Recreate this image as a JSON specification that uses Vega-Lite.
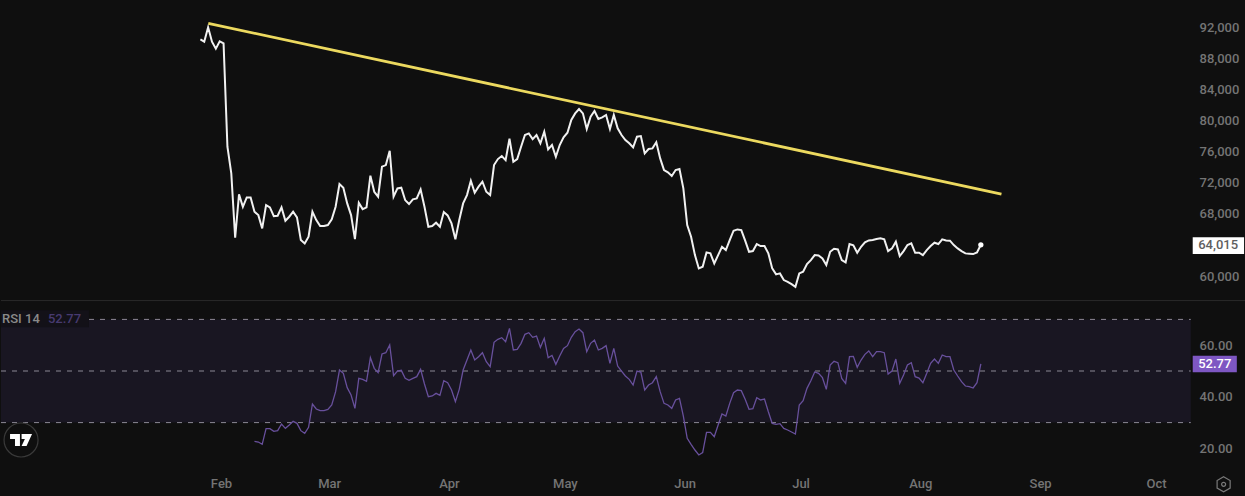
{"$schema":"https://vega.github.io/schema/vega-lite/v6.json","background":"#0f0f0f","padding":0,"spacing":0,"config":{"view":{"stroke":null},"font":"Roboto","concat":{"spacing":0}},
"datasets":{
"price":[{"date":"2025-01-26T16:00Z","value":90410},{"date":"2025-01-27T16:00Z","value":90110},{"date":"2025-01-28T16:00Z","value":91960},{"date":"2025-01-29T16:00Z","value":90110},{"date":"2025-01-30T16:00Z","value":89210},{"date":"2025-01-31T16:00Z","value":90160},{"date":"2025-02-01T16:00Z","value":89900},{"date":"2025-02-02T16:00Z","value":76620},{"date":"2025-02-03T16:00Z","value":73190},{"date":"2025-02-04T16:00Z","value":64920},{"date":"2025-02-05T16:00Z","value":70490},{"date":"2025-02-06T16:00Z","value":68900},{"date":"2025-02-07T16:00Z","value":70100},{"date":"2025-02-08T16:00Z","value":70100},{"date":"2025-02-09T16:00Z","value":68260},{"date":"2025-02-10T16:00Z","value":67830},{"date":"2025-02-11T16:00Z","value":66120},{"date":"2025-02-12T16:00Z","value":69120},{"date":"2025-02-13T16:00Z","value":68820},{"date":"2025-02-14T16:00Z","value":67700},{"date":"2025-02-15T16:00Z","value":67750},{"date":"2025-02-16T16:00Z","value":68820},{"date":"2025-02-17T16:00Z","value":67100},{"date":"2025-02-18T16:00Z","value":67620},{"date":"2025-02-19T16:00Z","value":68260},{"date":"2025-02-20T16:00Z","value":67530},{"date":"2025-02-21T16:00Z","value":64620},{"date":"2025-02-22T16:00Z","value":64190},{"date":"2025-02-23T16:00Z","value":65050},{"date":"2025-02-24T16:00Z","value":68260},{"date":"2025-02-25T16:00Z","value":67190},{"date":"2025-02-26T16:00Z","value":66420},{"date":"2025-02-27T16:00Z","value":66420},{"date":"2025-02-28T16:00Z","value":66550},
{"date":"2025-03-01T16:00Z","value":67280},{"date":"2025-03-02T16:00Z","value":68900},{"date":"2025-03-03T16:00Z","value":71820},{"date":"2025-03-04T16:00Z","value":71350},{"date":"2025-03-05T16:00Z","value":69330},{"date":"2025-03-06T16:00Z","value":67830},{"date":"2025-03-07T16:00Z","value":64750},{"date":"2025-03-08T16:00Z","value":69420},{"date":"2025-03-09T16:00Z","value":68600},{"date":"2025-03-10T16:00Z","value":68820},{"date":"2025-03-11T16:00Z","value":72890},{"date":"2025-03-12T16:00Z","value":70830},{"date":"2025-03-13T16:00Z","value":70190},{"date":"2025-03-14T16:00Z","value":74050},{"date":"2025-03-15T16:00Z","value":74260},{"date":"2025-03-16T16:00Z","value":76100},{"date":"2025-03-17T16:00Z","value":70190},{"date":"2025-03-18T16:00Z","value":71260},{"date":"2025-03-19T16:00Z","value":71350},{"date":"2025-03-20T16:00Z","value":69760},{"date":"2025-03-21T16:00Z","value":69250},{"date":"2025-03-22T16:00Z","value":69850},{"date":"2025-03-23T16:00Z","value":69980},{"date":"2025-03-24T16:00Z","value":71130},{"date":"2025-03-25T16:00Z","value":68900},{"date":"2025-03-26T16:00Z","value":66330},{"date":"2025-03-27T16:00Z","value":66420},{"date":"2025-03-28T16:00Z","value":66850},{"date":"2025-03-29T16:00Z","value":66330},{"date":"2025-03-30T16:00Z","value":68220},{"date":"2025-03-31T16:00Z","value":67790},
{"date":"2025-04-01T16:00Z","value":66760},{"date":"2025-04-02T16:00Z","value":64710},{"date":"2025-04-03T16:00Z","value":67190},{"date":"2025-04-04T16:00Z","value":69330},{"date":"2025-04-05T16:00Z","value":70400},{"date":"2025-04-06T16:00Z","value":72250},{"date":"2025-04-07T16:00Z","value":70700},{"date":"2025-04-08T16:00Z","value":71480},{"date":"2025-04-09T16:00Z","value":72120},{"date":"2025-04-10T16:00Z","value":70830},{"date":"2025-04-11T16:00Z","value":70400},{"date":"2025-04-12T16:00Z","value":74260},{"date":"2025-04-13T16:00Z","value":75030},{"date":"2025-04-14T16:00Z","value":75420},{"date":"2025-04-15T16:00Z","value":74900},{"date":"2025-04-16T16:00Z","value":77650},{"date":"2025-04-17T16:00Z","value":74690},{"date":"2025-04-18T16:00Z","value":75030},{"date":"2025-04-19T16:00Z","value":76620},{"date":"2025-04-20T16:00Z","value":78120},{"date":"2025-04-21T16:00Z","value":78330},{"date":"2025-04-22T16:00Z","value":77600},{"date":"2025-04-23T16:00Z","value":78120},{"date":"2025-04-24T16:00Z","value":77050},{"date":"2025-04-25T16:00Z","value":78550},{"date":"2025-04-26T16:00Z","value":76280},{"date":"2025-04-27T16:00Z","value":76830},{"date":"2025-04-28T16:00Z","value":75330},{"date":"2025-04-29T16:00Z","value":76830},{"date":"2025-04-30T16:00Z","value":77820},
{"date":"2025-05-01T16:00Z","value":78420},{"date":"2025-05-02T16:00Z","value":80050},{"date":"2025-05-03T16:00Z","value":80900},{"date":"2025-05-04T16:00Z","value":81460},{"date":"2025-05-05T16:00Z","value":80900},{"date":"2025-05-06T16:00Z","value":78890},{"date":"2025-05-07T16:00Z","value":80480},{"date":"2025-05-08T16:00Z","value":81200},{"date":"2025-05-09T16:00Z","value":80180},{"date":"2025-05-10T16:00Z","value":80390},{"date":"2025-05-11T16:00Z","value":80690},{"date":"2025-05-12T16:00Z","value":78890},{"date":"2025-05-13T16:00Z","value":80690},{"date":"2025-05-14T16:00Z","value":78980},{"date":"2025-05-15T16:00Z","value":78120},{"date":"2025-05-16T16:00Z","value":77480},{"date":"2025-05-17T16:00Z","value":77050},{"date":"2025-05-18T16:00Z","value":76530},{"date":"2025-05-19T16:00Z","value":77900},{"date":"2025-05-20T16:00Z","value":77990},{"date":"2025-05-21T16:00Z","value":75760},{"date":"2025-05-22T16:00Z","value":76320},{"date":"2025-05-23T16:00Z","value":76400},{"date":"2025-05-24T16:00Z","value":77180},{"date":"2025-05-25T16:00Z","value":75120},{"date":"2025-05-26T16:00Z","value":73620},{"date":"2025-05-27T16:00Z","value":73320},{"date":"2025-05-28T16:00Z","value":72850},{"date":"2025-05-29T16:00Z","value":73620},{"date":"2025-05-30T16:00Z","value":73750},{"date":"2025-05-31T16:00Z","value":71260},
{"date":"2025-06-01T16:00Z","value":66550},{"date":"2025-06-02T16:00Z","value":65050},{"date":"2025-06-03T16:00Z","value":62690},{"date":"2025-06-04T16:00Z","value":60980},{"date":"2025-06-05T16:00Z","value":61190},{"date":"2025-06-06T16:00Z","value":63040},{"date":"2025-06-07T16:00Z","value":62910},{"date":"2025-06-08T16:00Z","value":61620},{"date":"2025-06-09T16:00Z","value":62690},{"date":"2025-06-10T16:00Z","value":63760},{"date":"2025-06-11T16:00Z","value":63340},{"date":"2025-06-12T16:00Z","value":64620},{"date":"2025-06-13T16:00Z","value":65820},{"date":"2025-06-14T16:00Z","value":65990},{"date":"2025-06-15T16:00Z","value":65910},{"date":"2025-06-16T16:00Z","value":64540},{"date":"2025-06-17T16:00Z","value":63120},{"date":"2025-06-18T16:00Z","value":63210},{"date":"2025-06-19T16:00Z","value":64110},{"date":"2025-06-20T16:00Z","value":63850},{"date":"2025-06-21T16:00Z","value":63850},{"date":"2025-06-22T16:00Z","value":62910},{"date":"2025-06-23T16:00Z","value":60980},{"date":"2025-06-24T16:00Z","value":60210},{"date":"2025-06-25T16:00Z","value":60340},{"date":"2025-06-26T16:00Z","value":59480},{"date":"2025-06-27T16:00Z","value":59260},{"date":"2025-06-28T16:00Z","value":58960},{"date":"2025-06-29T16:00Z","value":58620},{"date":"2025-06-30T16:00Z","value":60340},
{"date":"2025-07-01T16:00Z","value":60550},{"date":"2025-07-02T16:00Z","value":61540},{"date":"2025-07-03T16:00Z","value":62050},{"date":"2025-07-04T16:00Z","value":62690},{"date":"2025-07-05T16:00Z","value":62650},{"date":"2025-07-06T16:00Z","value":62260},{"date":"2025-07-07T16:00Z","value":61410},{"date":"2025-07-08T16:00Z","value":63120},{"date":"2025-07-09T16:00Z","value":63510},{"date":"2025-07-10T16:00Z","value":63420},{"date":"2025-07-11T16:00Z","value":62050},{"date":"2025-07-12T16:00Z","value":61750},{"date":"2025-07-13T16:00Z","value":64110},{"date":"2025-07-14T16:00Z","value":63940},{"date":"2025-07-15T16:00Z","value":62990},{"date":"2025-07-16T16:00Z","value":63760},{"date":"2025-07-17T16:00Z","value":64320},{"date":"2025-07-18T16:00Z","value":64580},{"date":"2025-07-19T16:00Z","value":64620},{"date":"2025-07-20T16:00Z","value":64750},{"date":"2025-07-21T16:00Z","value":64840},{"date":"2025-07-22T16:00Z","value":64710},{"date":"2025-07-23T16:00Z","value":63210},{"date":"2025-07-24T16:00Z","value":63550},{"date":"2025-07-25T16:00Z","value":64410},{"date":"2025-07-26T16:00Z","value":62560},{"date":"2025-07-27T16:00Z","value":63210},{"date":"2025-07-28T16:00Z","value":63980},{"date":"2025-07-29T16:00Z","value":64190},{"date":"2025-07-30T16:00Z","value":62990},{"date":"2025-07-31T16:00Z","value":62990},
{"date":"2025-08-01T16:00Z","value":62690},{"date":"2025-08-02T16:00Z","value":63340},{"date":"2025-08-03T16:00Z","value":63850},{"date":"2025-08-04T16:00Z","value":64280},{"date":"2025-08-05T16:00Z","value":64110},{"date":"2025-08-06T16:00Z","value":64710},{"date":"2025-08-07T16:00Z","value":64580},{"date":"2025-08-08T16:00Z","value":64540},{"date":"2025-08-09T16:00Z","value":63980},{"date":"2025-08-10T16:00Z","value":63550},{"date":"2025-08-11T16:00Z","value":63210},{"date":"2025-08-12T16:00Z","value":62910},{"date":"2025-08-13T16:00Z","value":62860},{"date":"2025-08-14T16:00Z","value":62820},{"date":"2025-08-15T16:00Z","value":63040},{"date":"2025-08-16T16:00Z","value":64015}],
"rsi":[{"date":"2025-02-09T16:00Z","value":22.74},{"date":"2025-02-10T16:00Z","value":22.48},{"date":"2025-02-11T16:00Z","value":21.57},{"date":"2025-02-12T16:00Z","value":27.64},{"date":"2025-02-13T16:00Z","value":27.64},{"date":"2025-02-14T16:00Z","value":26.61},{"date":"2025-02-15T16:00Z","value":26.87},{"date":"2025-02-16T16:00Z","value":29.45},{"date":"2025-02-17T16:00Z","value":27.77},{"date":"2025-02-18T16:00Z","value":29.07},{"date":"2025-02-19T16:00Z","value":30.49},{"date":"2025-02-20T16:00Z","value":29.71},{"date":"2025-02-21T16:00Z","value":26.87},{"date":"2025-02-22T16:00Z","value":25.84},{"date":"2025-02-23T16:00Z","value":28.16},{"date":"2025-02-24T16:00Z","value":37.21},{"date":"2025-02-25T16:00Z","value":35.27},{"date":"2025-02-26T16:00Z","value":34.62},{"date":"2025-02-27T16:00Z","value":34.62},{"date":"2025-02-28T16:00Z","value":35.14},
{"date":"2025-03-01T16:00Z","value":36.82},{"date":"2025-03-02T16:00Z","value":41.99},{"date":"2025-03-03T16:00Z","value":50.38},{"date":"2025-03-04T16:00Z","value":49.09},{"date":"2025-03-05T16:00Z","value":43.54},{"date":"2025-03-06T16:00Z","value":40.69},{"date":"2025-03-07T16:00Z","value":35.53},{"date":"2025-03-08T16:00Z","value":47.15},{"date":"2025-03-09T16:00Z","value":46.77},{"date":"2025-03-10T16:00Z","value":45.99},{"date":"2025-03-11T16:00Z","value":55.16},{"date":"2025-03-12T16:00Z","value":51.03},{"date":"2025-03-13T16:00Z","value":49.35},{"date":"2025-03-14T16:00Z","value":56.59},{"date":"2025-03-15T16:00Z","value":57.10},{"date":"2025-03-16T16:00Z","value":60.07},{"date":"2025-03-17T16:00Z","value":48.19},{"date":"2025-03-18T16:00Z","value":49.96},{"date":"2025-03-19T16:00Z","value":50.25},{"date":"2025-03-20T16:00Z","value":47.15},{"date":"2025-03-21T16:00Z","value":46.38},{"date":"2025-03-22T16:00Z","value":47.15},{"date":"2025-03-23T16:00Z","value":47.80},{"date":"2025-03-24T16:00Z","value":50.64},{"date":"2025-03-25T16:00Z","value":44.96},{"date":"2025-03-26T16:00Z","value":40.05},{"date":"2025-03-27T16:00Z","value":40.31},{"date":"2025-03-28T16:00Z","value":41.34},{"date":"2025-03-29T16:00Z","value":40.57},{"date":"2025-03-30T16:00Z","value":46.25},{"date":"2025-03-31T16:00Z","value":45.47},
{"date":"2025-04-01T16:00Z","value":42.63},{"date":"2025-04-02T16:00Z","value":38.11},{"date":"2025-04-03T16:00Z","value":42.89},{"date":"2025-04-04T16:00Z","value":50.38},{"date":"2025-04-05T16:00Z","value":54.26},{"date":"2025-04-06T16:00Z","value":58.14},{"date":"2025-04-07T16:00Z","value":54.26},{"date":"2025-04-08T16:00Z","value":55.55},{"date":"2025-04-09T16:00Z","value":57.10},{"date":"2025-04-10T16:00Z","value":53.61},{"date":"2025-04-11T16:00Z","value":51.68},{"date":"2025-04-12T16:00Z","value":61.11},{"date":"2025-04-13T16:00Z","value":62.27},{"date":"2025-04-14T16:00Z","value":62.92},{"date":"2025-04-15T16:00Z","value":61.37},{"date":"2025-04-16T16:00Z","value":66.53},{"date":"2025-04-17T16:00Z","value":58.14},{"date":"2025-04-18T16:00Z","value":58.39},{"date":"2025-04-19T16:00Z","value":60.72},{"date":"2025-04-20T16:00Z","value":64.21},{"date":"2025-04-21T16:00Z","value":64.85},{"date":"2025-04-22T16:00Z","value":63.05},{"date":"2025-04-23T16:00Z","value":63.56},{"date":"2025-04-24T16:00Z","value":59.17},{"date":"2025-04-25T16:00Z","value":62.66},{"date":"2025-04-26T16:00Z","value":55.16},{"date":"2025-04-27T16:00Z","value":56.07},{"date":"2025-04-28T16:00Z","value":52.58},{"date":"2025-04-29T16:00Z","value":55.81},{"date":"2025-04-30T16:00Z","value":58.78},
{"date":"2025-05-01T16:00Z","value":59.82},{"date":"2025-05-02T16:00Z","value":63.05},{"date":"2025-05-03T16:00Z","value":65.24},{"date":"2025-05-04T16:00Z","value":66.28},{"date":"2025-05-05T16:00Z","value":64.85},{"date":"2025-05-06T16:00Z","value":57.49},{"date":"2025-05-07T16:00Z","value":60.72},{"date":"2025-05-08T16:00Z","value":62.01},{"date":"2025-05-09T16:00Z","value":58.14},{"date":"2025-05-10T16:00Z","value":58.78},{"date":"2025-05-11T16:00Z","value":59.82},{"date":"2025-05-12T16:00Z","value":52.97},{"date":"2025-05-13T16:00Z","value":58.78},{"date":"2025-05-14T16:00Z","value":51.93},{"date":"2025-05-15T16:00Z","value":49.96},{"date":"2025-05-16T16:00Z","value":48.06},{"date":"2025-05-17T16:00Z","value":46.77},{"date":"2025-05-18T16:00Z","value":44.57},{"date":"2025-05-19T16:00Z","value":49.96},{"date":"2025-05-20T16:00Z","value":49.61},{"date":"2025-05-21T16:00Z","value":42.63},{"date":"2025-05-22T16:00Z","value":44.57},{"date":"2025-05-23T16:00Z","value":45.47},{"date":"2025-05-24T16:00Z","value":47.80},{"date":"2025-05-25T16:00Z","value":41.99},{"date":"2025-05-26T16:00Z","value":37.46},{"date":"2025-05-27T16:00Z","value":36.82},{"date":"2025-05-28T16:00Z","value":35.53},{"date":"2025-05-29T16:00Z","value":38.76},{"date":"2025-05-30T16:00Z","value":39.40},{"date":"2025-05-31T16:00Z","value":32.55},
{"date":"2025-06-01T16:00Z","value":23.90},{"date":"2025-06-02T16:00Z","value":21.57},{"date":"2025-06-03T16:00Z","value":19.38},{"date":"2025-06-04T16:00Z","value":17.44},{"date":"2025-06-05T16:00Z","value":18.34},{"date":"2025-06-06T16:00Z","value":26.22},{"date":"2025-06-07T16:00Z","value":26.22},{"date":"2025-06-08T16:00Z","value":24.54},{"date":"2025-06-09T16:00Z","value":29.07},{"date":"2025-06-10T16:00Z","value":33.33},{"date":"2025-06-11T16:00Z","value":32.55},{"date":"2025-06-12T16:00Z","value":37.46},{"date":"2025-06-13T16:00Z","value":41.60},{"date":"2025-06-14T16:00Z","value":42.63},{"date":"2025-06-15T16:00Z","value":42.37},{"date":"2025-06-16T16:00Z","value":39.01},{"date":"2025-06-17T16:00Z","value":35.14},{"date":"2025-06-18T16:00Z","value":35.40},{"date":"2025-06-19T16:00Z","value":39.66},{"date":"2025-06-20T16:00Z","value":38.76},{"date":"2025-06-21T16:00Z","value":39.14},{"date":"2025-06-22T16:00Z","value":34.23},{"date":"2025-06-23T16:00Z","value":29.71},{"date":"2025-06-24T16:00Z","value":29.32},{"date":"2025-06-25T16:00Z","value":29.58},{"date":"2025-06-26T16:00Z","value":27.77},{"date":"2025-06-27T16:00Z","value":27.13},{"date":"2025-06-28T16:00Z","value":26.35},{"date":"2025-06-29T16:00Z","value":25.58},{"date":"2025-06-30T16:00Z","value":36.82},
{"date":"2025-07-01T16:00Z","value":38.50},{"date":"2025-07-02T16:00Z","value":43.28},{"date":"2025-07-03T16:00Z","value":46.25},{"date":"2025-07-04T16:00Z","value":49.61},{"date":"2025-07-05T16:00Z","value":49.09},{"date":"2025-07-06T16:00Z","value":47.41},{"date":"2025-07-07T16:00Z","value":42.89},{"date":"2025-07-08T16:00Z","value":52.32},{"date":"2025-07-09T16:00Z","value":53.74},{"date":"2025-07-10T16:00Z","value":53.23},{"date":"2025-07-11T16:00Z","value":47.15},{"date":"2025-07-12T16:00Z","value":45.22},{"date":"2025-07-13T16:00Z","value":55.55},{"date":"2025-07-14T16:00Z","value":55.68},{"date":"2025-07-15T16:00Z","value":51.42},{"date":"2025-07-16T16:00Z","value":54.26},{"date":"2025-07-17T16:00Z","value":56.46},{"date":"2025-07-18T16:00Z","value":57.75},{"date":"2025-07-19T16:00Z","value":55.55},{"date":"2025-07-20T16:00Z","value":57.49},{"date":"2025-07-21T16:00Z","value":57.49},{"date":"2025-07-22T16:00Z","value":57.10},{"date":"2025-07-23T16:00Z","value":48.83},{"date":"2025-07-24T16:00Z","value":49.96},{"date":"2025-07-25T16:00Z","value":54.65},{"date":"2025-07-26T16:00Z","value":45.22},{"date":"2025-07-27T16:00Z","value":48.45},{"date":"2025-07-28T16:00Z","value":52.32},{"date":"2025-07-29T16:00Z","value":53.23},{"date":"2025-07-30T16:00Z","value":47.80},{"date":"2025-07-31T16:00Z","value":47.28},
{"date":"2025-08-01T16:00Z","value":45.47},{"date":"2025-08-02T16:00Z","value":49.09},{"date":"2025-08-03T16:00Z","value":52.97},{"date":"2025-08-04T16:00Z","value":54.65},{"date":"2025-08-05T16:00Z","value":52.97},{"date":"2025-08-06T16:00Z","value":56.20},{"date":"2025-08-07T16:00Z","value":55.55},{"date":"2025-08-08T16:00Z","value":55.55},{"date":"2025-08-09T16:00Z","value":50.38},{"date":"2025-08-10T16:00Z","value":48.06},{"date":"2025-08-11T16:00Z","value":45.86},{"date":"2025-08-12T16:00Z","value":44.18},{"date":"2025-08-13T16:00Z","value":43.92},{"date":"2025-08-14T16:00Z","value":43.41},{"date":"2025-08-15T16:00Z","value":45.47},{"date":"2025-08-16T16:00Z","value":52.77}],
"trend":[{"date":"2025-01-28T17:00Z","value":92475},{"date":"2025-08-22T00:00Z","value":70540}]
},
"vconcat":[
{"width":1245,"height":300,
"encoding":{"x":{"field":"date","type":"temporal","axis":null,"scale":{"type":"utc","domain":[{"year":2024,"month":12,"date":6,"hours":1,"minutes":30,"utc":true},{"year":2025,"month":10,"date":24,"hours":7,"utc":true}]}},
"y":{"field":"value","type":"quantitative","title":null,"scale":{"domain":[56920,95470],"nice":false,"zero":false},"axis":{"orient":"right","offset":-55,"values":[60000,64000,68000,72000,76000,80000,84000,88000,92000],"format":",.0f","grid":false,"domain":false,"ticks":false,"labelPadding":8,"labelColor":"#747474","labelFont":"Roboto","labelFontSize":13,"labelFontWeight":500}}},
"layer":[
{"data":{"name":"price"},"mark":{"type":"line","color":"#f1f1f1","strokeWidth":2,"interpolate":"linear"}},
{"data":{"name":"trend"},"mark":{"type":"line","color":"#ecd95f","strokeWidth":2.8}},
{"data":{"values":[{"date":"2025-08-16T16:00Z","value":64015}]},"mark":{"type":"point","filled":true,"color":"#ffffff","size":28,"opacity":1}},
{"data":{"values":[{"date":"2025-10-10T12:00Z","date2":"2025-10-23T19:00Z","value":64976,"value2":62830}]},"mark":{"type":"rect","color":"#ffffff"},"encoding":{"x2":{"field":"date2"},"y2":{"field":"value2"}}},
{"data":{"values":[{"date":"2025-10-17T02:00Z","value":63960,"label":"64,015"}]},"mark":{"type":"text","color":"#5f5f5f","font":"Roboto","fontSize":13,"fontWeight":500,"align":"center","baseline":"middle"},"encoding":{"text":{"field":"label"}}}
]},
{"width":1245,"height":196,
"encoding":{"x":{"field":"date","type":"temporal","scale":{"type":"utc","domain":[{"year":2024,"month":12,"date":6,"hours":1,"minutes":30,"utc":true},{"year":2025,"month":10,"date":24,"hours":7,"utc":true}]},"title":null,"axis":{"orient":"bottom","offset":-20,"labelExpr":"utcFormat(datum.value,'%b')","values":[{"year":2025,"month":2,"date":1,"utc":true},{"year":2025,"month":3,"date":1,"utc":true},{"year":2025,"month":4,"date":1,"utc":true},{"year":2025,"month":5,"date":1,"utc":true},{"year":2025,"month":6,"date":1,"utc":true},{"year":2025,"month":7,"date":1,"utc":true},{"year":2025,"month":8,"date":1,"utc":true},{"year":2025,"month":9,"date":1,"utc":true},{"year":2025,"month":10,"date":1,"utc":true}],"grid":false,"domain":false,"ticks":false,"labelPadding":1,"labelColor":"#747474","labelFont":"Roboto","labelFontSize":13,"labelFontWeight":500,"labelFlush":false,"labelOverlap":false}},
"y":{"field":"value","type":"quantitative","title":null,"scale":{"domain":[1.55,77.52],"nice":false,"zero":false},"axis":{"orient":"right","offset":-55,"values":[20,40,60],"format":".2f","grid":false,"domain":false,"ticks":false,"labelPadding":8,"labelColor":"#747474","labelFont":"Roboto","labelFontSize":13,"labelFontWeight":500}}},
"layer":[
{"data":{"values":[{"date":"2024-12-06T01:30Z","date2":"2025-10-10T00:00Z","value":70,"value2":30}]},"mark":{"type":"rect","color":"#191622"},"encoding":{"x2":{"field":"date2"},"y2":{"field":"value2"}}},
{"data":{"values":[{"date":"2024-12-06T01:30Z","date2":"2025-10-24T07:00Z","value":77.3}]},"mark":{"type":"rule","color":"#2a2a2a","strokeWidth":1},"encoding":{"x2":{"field":"date2"}}},
{"data":{"values":[{"date":"2024-12-06T01:30Z","date2":"2025-10-10T00:00Z","value":70},{"date":"2024-12-06T01:30Z","date2":"2025-10-10T00:00Z","value":50},{"date":"2024-12-06T01:30Z","date2":"2025-10-10T00:00Z","value":30}]},"mark":{"type":"rule","color":"#8c8894","strokeWidth":1,"strokeDash":[5,6]},"encoding":{"x2":{"field":"date2"}}},
{"data":{"name":"rsi"},"mark":{"type":"line","color":"#68509c","strokeWidth":1.3}},
{"data":{"values":[{"date":"2024-12-06T01:30Z","date2":"2024-12-28T20:00Z","value":73.5,"value2":67}]},"mark":{"type":"rect","color":"#131118"},"encoding":{"x2":{"field":"date2"},"y2":{"field":"value2"}}},
{"data":{"values":[{"date":"2024-12-06T08:00Z","value":70.1,"label":"RSI 14"}]},"mark":{"type":"text","color":"#8a8a8a","font":"Roboto","fontSize":13,"fontWeight":500,"align":"left","baseline":"middle"},"encoding":{"text":{"field":"label"}}},
{"data":{"values":[{"date":"2024-12-18T05:00Z","value":70.1,"label":"52.77"}]},"mark":{"type":"text","color":"#473a70","font":"Roboto","fontSize":13,"fontWeight":500,"align":"left","baseline":"middle"},"encoding":{"text":{"field":"label"}}},
{"data":{"values":[{"date":"2025-10-10T12:00Z","date2":"2025-10-21T22:00Z","value":55.93,"value2":49.5}]},"mark":{"type":"rect","color":"#7e57c2"},"encoding":{"x2":{"field":"date2"},"y2":{"field":"value2"}}},
{"data":{"values":[{"date":"2025-10-16T05:00Z","value":52.6,"label":"52.77"}]},"mark":{"type":"text","color":"#ffffff","font":"Roboto","fontSize":13,"fontWeight":500,"align":"center","baseline":"middle"},"encoding":{"text":{"field":"label"}}},
{"data":{"values":[{"date":"2024-12-11T06:00Z","value":23.26}]},"mark":{"type":"point","shape":"circle","size":1156,"stroke":"#3a3a3a","strokeWidth":1.2,"filled":false,"opacity":1}},
{"data":{"values":[{"date":"2024-12-11T06:00Z","value":23.26}]},"mark":{"type":"point","shape":"M-1 -.55H-.1V.55H-.55V-.1H-1Z M.05 -.55H1L.5 .55H.05L.35 -.1H.05Z","size":484,"fill":"#ffffff","filled":true,"opacity":1,"strokeWidth":0}},
{"data":{"values":[{"date":"2025-10-18T12:00Z","value":6.08}]},"mark":{"type":"point","shape":"M0 -1L.87 -.5V.5L0 1L-.87 .5V-.5Z","size":225,"stroke":"#7a7a7a","strokeWidth":1.2,"filled":false,"opacity":1}},
{"data":{"values":[{"date":"2025-10-18T12:00Z","value":6.08}]},"mark":{"type":"point","shape":"circle","size":16,"stroke":"#7a7a7a","strokeWidth":1.2,"filled":false,"opacity":1}}
]}
]}
